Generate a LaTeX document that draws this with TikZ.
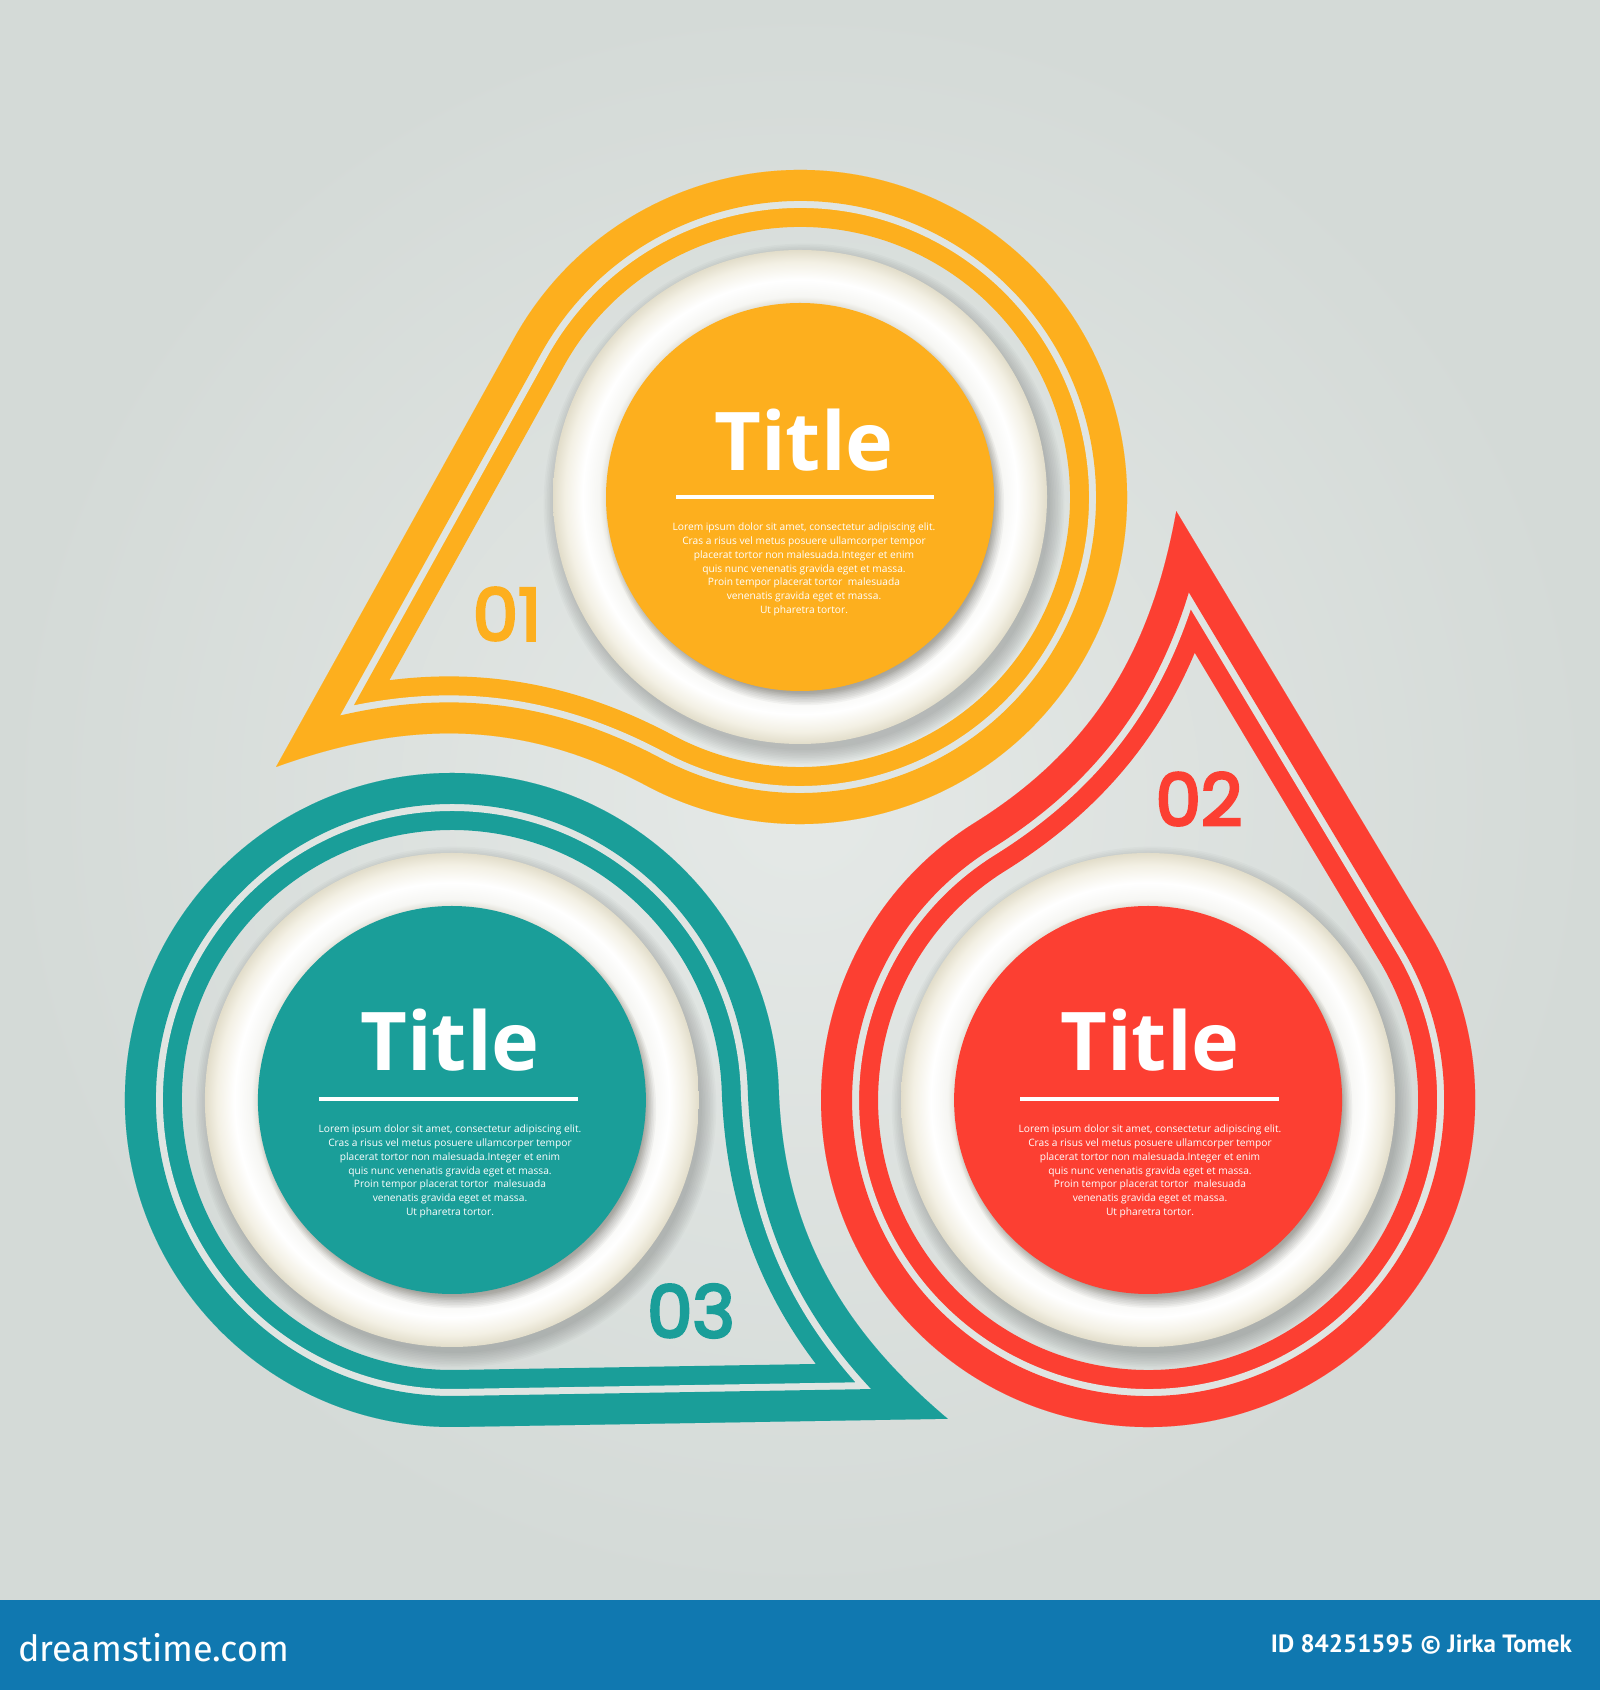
\documentclass[tikz,border=0pt]{standalone}
\usepackage{fontspec}
\setmainfont{Open Sans}
\newfontfamily\numfont[FakeBold=4]{Poppins}
\newfontfamily\barfont{PT Sans}
\newfontfamily\logofont{Fira Sans}
\definecolor{bgin}{RGB}{229,233,231}
\definecolor{bgout}{RGB}{212,218,215}
\definecolor{gapc}{RGB}{224,229,226}
\definecolor{ylw}{RGB}{253,175,30}
\definecolor{redc}{RGB}{252,63,50}
\definecolor{tealc}{RGB}{26,158,153}
\definecolor{barblue}{RGB}{16,120,176}
\definecolor{ringIn}{RGB}{222,220,210}
\definecolor{ringW}{RGB}{246,246,243}
\definecolor{ringC}{RGB}{243,240,228}
\definecolor{ringE}{RGB}{226,221,202}
\pgfdeclareradialshading{ringshade}{\pgfpointorigin}{color(0bp)=(ringIn); color(19.5bp)=(ringIn); color(20.3bp)=(ringW); color(22bp)=(white); color(23.8bp)=(ringC); color(25bp)=(ringE); color(50bp)=(ringE)}
\newcommand\droppath{(-524,-270) -- (151:327) arc[start angle=151,end angle=-118,radius=327] .. controls (-277,-223) and (-391,-222) .. cycle}
\newcommand\bodytext{Lorem ipsum dolor sit amet, consectetur adipiscing elit.\\ Cras a risus vel metus posuere ullamcorper tempor\\ placerat tortor non malesuada.Integer et enim\\ quis nunc venenatis gravida eget et massa.\\ Proin tempor placerat tortor\ \ malesuada\\ venenatis gravida eget et massa.\hspace*{22pt}\\ Ut pharetra tortor.}
\newcommand\dropshape[4]{%
  \begin{scope}[shift={(#2,#3)}, rotate=#4]
    \clip \droppath;
    \draw[#1, line width=114pt, line join=miter] \droppath;
    \draw[gapc, line width=76pt, line join=miter] \droppath;
    \draw[#1, line width=62pt, line join=miter] \droppath;
  \end{scope}}
\newcommand\ringdisc[3]{%
  \foreach \i in {0,...,9} {\fill[black, opacity=0.02] (#1+4,#2-7) circle[radius=246+\i*1.6];}
  \shade[shading=ringshade] (#1,#2) circle[radius=247];
  \foreach \i in {0,...,7} {\fill[black, opacity=0.035] (#1+5,#2-9) circle[radius=188+\i*1.6];}
  \fill[#3] (#1,#2) circle[radius=194];}
\tikzset{
  titletext/.style={text=white, font=\bfseries\fontsize{81}{81}\selectfont, anchor=base, inner sep=0pt},
  bodystyle/.style={text=white, font=\fontsize{10.2}{13.8}\selectfont, align=center, inner sep=0pt},
  numtext/.style={font=\numfont\fontsize{72}{72}\selectfont, inner sep=0pt},
  uline/.style={white, line width=4pt}
}
\begin{document}
\begin{tikzpicture}[x=1pt,y=1pt]
\useasboundingbox (0,0) rectangle (1600,1690);
\shade[inner color=bgin, outer color=bgout] (0,90) rectangle (1600,1690);
\fill[barblue] (0,0) rectangle (1600,90);
% drops
\dropshape{ylw}{800}{1193}{0}
\dropshape{redc}{1148.1}{590}{-120}
\dropshape{tealc}{451.9}{590}{120}
% rings and discs
\ringdisc{800}{1193}{ylw}
\ringdisc{1148.1}{590}{redc}
\ringdisc{451.9}{590}{tealc}
% texts yellow
\node[titletext] (t1) at (804,1219) {Title};
\coordinate (u1a) at (676,1193); \coordinate (u1b) at (934,1193);
\draw[uline] (u1a) -- (u1b);
\node[bodystyle] (b1) at (804,1120.5) {\bodytext};
% red
\node[titletext] (t2) at (1150,619) {Title};
\coordinate (u2a) at (1020,591); \coordinate (u2b) at (1279,591);
\draw[uline] (u2a) -- (u2b);
\node[bodystyle] (b2) at (1150,518.5) {\bodytext};
% teal
\node[titletext] (t3) at (450,619) {Title};
\coordinate (u3a) at (319,591); \coordinate (u3b) at (578,591);
\draw[uline] (u3a) -- (u3b);
\node[bodystyle] (b3) at (450,518.5) {\bodytext};
% numbers
\node[numtext, text=ylw] (n1) at (507,1076) {01};
\node[numtext, text=redc] (n2) at (1199,891) {02};
\node[numtext, text=tealc] (n3) at (691,379) {03};
% bottom bar
\node[text=white, font=\logofont\fontsize{36}{36}\selectfont, anchor=west, inner sep=0pt] (logo) at (18,42) {dreamstime.com};
\node[text=white, font=\barfont\bfseries\fontsize{25}{25}\selectfont, anchor=east, inner sep=0pt] (idt) at (1572,46) {ID 84251595 © Jirka Tomek};
\end{tikzpicture}
\end{document}
